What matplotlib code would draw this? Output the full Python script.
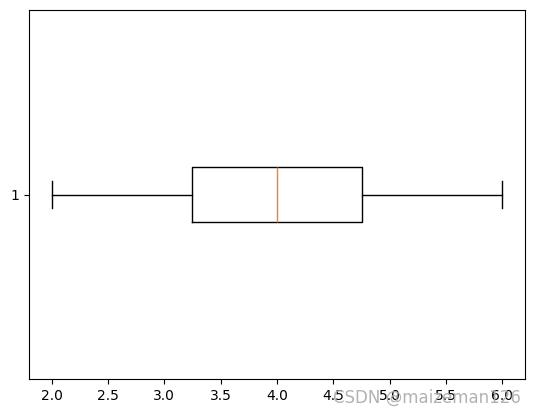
import matplotlib
matplotlib.use('Agg')
import matplotlib.pyplot as plt

data = [2, 3, 4, 4, 5, 6]

fig = plt.figure(figsize=(5.34, 4.13), dpi=100)
ax = fig.add_axes([29/534, 1 - 379/413, (525 - 29)/534, (379 - 10)/413])
ax.boxplot(data, vert=False)

fig.text(0.975, 0.015, 'CSDN @maizeman126', ha='right', va='bottom',
         fontsize=12, color='#aaaaaa', alpha=0.9)

fig.savefig('out.png', dpi=100)
